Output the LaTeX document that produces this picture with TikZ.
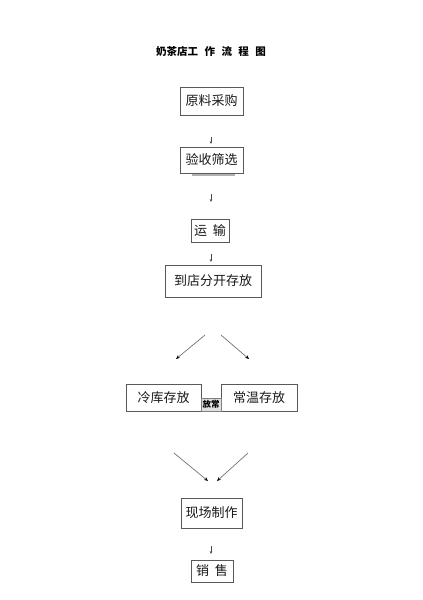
\documentclass[tikz,border=0pt]{standalone}
\usepackage{fontspec}
\newfontfamily\cjk{Noto Sans CJK SC}
\usetikzlibrary{arrows.meta}
\tikzset{
  box/.style={draw=black!65, line width=0.9pt, fill=white, inner sep=0pt, font=\cjk\fontsize{13}{13}\selectfont, text=black!90},
  arr/.style={draw=black!70, line width=0.6pt, -{Stealth[length=3pt,width=2.6pt]}},
  darr/.style={draw=black!55, line width=0.7pt, -{Stealth[length=4pt,width=3.4pt,color=black]}},
}
\begin{document}
\begin{tikzpicture}[x=1pt,y=-1pt]
\useasboundingbox (0,0) rectangle (423,600);
\node[font=\cjk\bfseries\fontsize{10.5}{10.5}\selectfont] (title) at (211,52) {奶茶店工\hspace{6.5pt}作\hspace{6.5pt}流\hspace{6.5pt}程\hspace{6.5pt}图};
\node[box, minimum width=63pt, minimum height=28pt] (b1) at (211.5,101) {原料采购};
\fill[black!30] (192,173.5) rectangle (235,175.5);
\node[box, minimum width=63pt, minimum height=26pt] (b2) at (211.5,160) {验收筛选};
\node[box, minimum width=38pt, minimum height=23pt] (b3) at (210,231) {运\ \ 输};
\node[box, minimum width=96pt, minimum height=32pt] (b4) at (213,281) {到店分开存放};
\node[box, minimum width=75pt, minimum height=27pt] (b5) at (163.5,397.5) {冷库存放};
\node[box, minimum width=76pt, minimum height=27pt] (b6) at (259,397.5) {常温存放};
\node[draw=black!50, line width=0.5pt, fill=black!12, inner sep=0pt, minimum width=20pt, minimum height=13pt, font=\cjk\bfseries\fontsize{8.5}{8.5}\selectfont] (lab) at (211,404.5) {放常};
\node[box, minimum width=61pt, minimum height=30pt] (b7) at (211.5,513) {现场制作};
\node[box, minimum width=42pt, minimum height=22pt] (b8) at (212,571) {销\ \ 售};
% arrows
\coordinate (a1s) at (211,137); \coordinate (a1e) at (211,144);
\coordinate (a2s) at (211,194); \coordinate (a2e) at (211,202);
\coordinate (a3s) at (211,254); \coordinate (a3e) at (211,262);
\coordinate (a4s) at (205,335); \coordinate (a4e) at (176,359);
\coordinate (a5s) at (221,335); \coordinate (a5e) at (249,359);
\coordinate (a6s) at (174,453); \coordinate (a6e) at (208,481);
\coordinate (a7s) at (248,453); \coordinate (a7e) at (217,481);
\coordinate (a8s) at (211,546); \coordinate (a8e) at (211,554);
\draw[arr] (a1s) -- (a1e);
\draw[arr] (a2s) -- (a2e);
\draw[arr] (a3s) -- (a3e);
\draw[darr] (a4s) -- (a4e);
\draw[darr] (a5s) -- (a5e);
\draw[darr] (a6s) -- (a6e);
\draw[darr] (a7s) -- (a7e);
\draw[arr] (a8s) -- (a8e);
\end{tikzpicture}
\end{document}
